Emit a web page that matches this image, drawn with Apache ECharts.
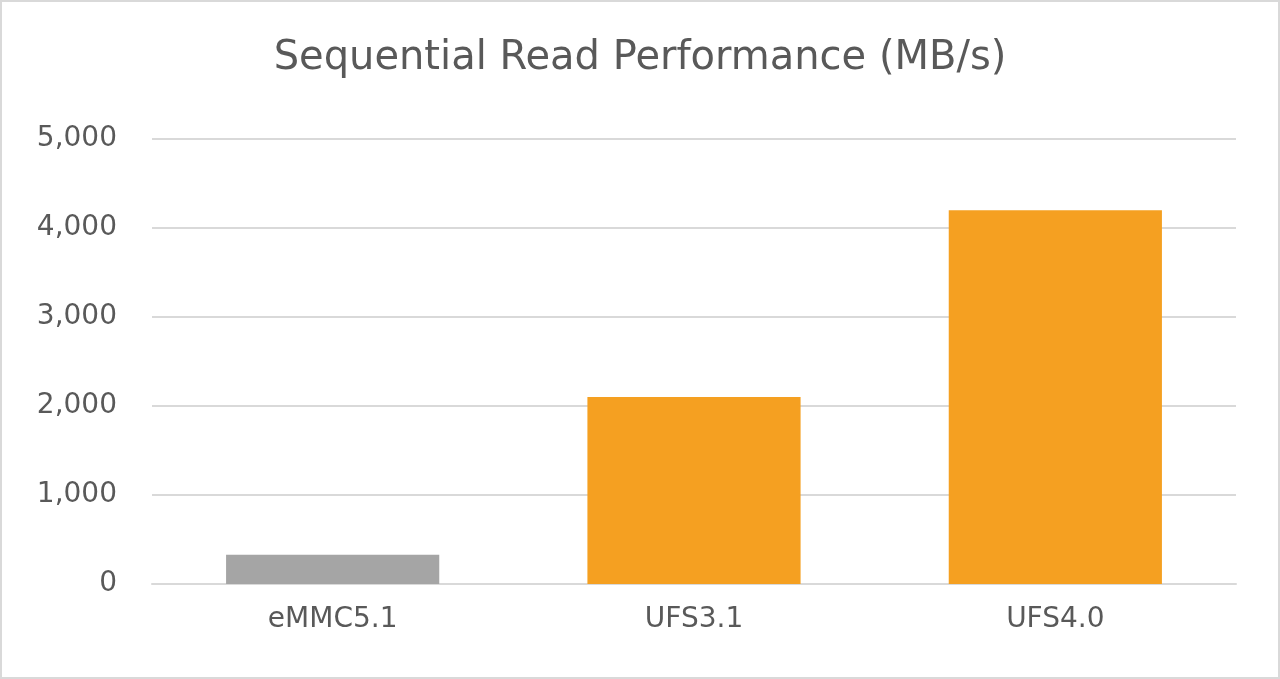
<!DOCTYPE html>
<html>
<head>
<meta charset="utf-8">
<script src="https://cdn.jsdelivr.net/npm/echarts@6/dist/echarts.min.js"></script>
<style>
html,body{margin:0;padding:0;background:#fff;}
#chart{width:1280px;height:679px;box-sizing:border-box;border:2px solid #d9d9d9;}
</style>
</head>
<body>
<div id="chart"></div>
<script>
var categories = ['eMMC5.1', 'UFS3.1', 'UFS4.0'];
var readSpeeds = [330, 2100, 4200];
var barColors = ['#a5a5a5', '#f5a021', '#f5a021'];

var chart = echarts.init(document.getElementById('chart'));
chart.setOption({
	animation: false,
	title: {
		text: 'Sequential Read Performance (MB/s)',
		left: 'center',
		top: 32,
		textStyle: {color: '#595959', fontSize: 40, fontWeight: 'normal', fontFamily: 'DejaVu Sans'}
	},
	grid: {left: 150, right: 42, top: 137, bottom: 93},
	xAxis: {
		type: 'category',
		data: categories,
		axisTick: {show: false},
		axisLine: {lineStyle: {color: '#d9d9d9', width: 2}},
		axisLabel: {color: '#595959', fontSize: 28, margin: 22, fontFamily: 'DejaVu Sans'}
	},
	yAxis: {
		type: 'value',
		min: 0,
		max: 5000,
		interval: 1000,
		axisLine: {show: false},
		axisTick: {show: false},
		splitLine: {lineStyle: {color: '#d9d9d9', width: 2}},
		axisLabel: {color: '#595959', fontSize: 28, margin: 35, fontFamily: 'DejaVu Sans'}
	},
	series: [{
		type: 'bar',
		barWidth: '59%',
		data: readSpeeds.map(function (v, i) {
			return {value: v, itemStyle: {color: barColors[i]}};
		})
	}]
});
</script>
</body>
</html>
